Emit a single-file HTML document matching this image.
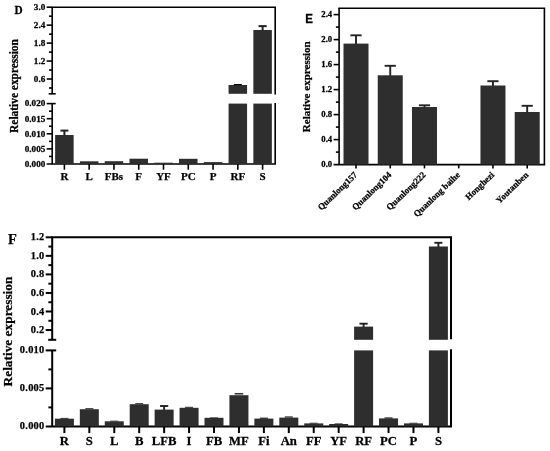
<!DOCTYPE html>
<html lang="en">
<head>
<meta charset="utf-8">
<title>Relative expression charts D, E, F</title>
<style>
html,body{margin:0;padding:0;background:#fff;}
body{width:550px;height:451px;overflow:hidden;}
svg{display:block;}
text{fill:#000;}
</style>
</head>
<body>
<svg width="550" height="451" viewBox="0 0 550 451">
<rect x="0" y="0" width="550" height="451" fill="#ffffff"/>
<line x1="51.40" y1="7.20" x2="276.00" y2="7.20" stroke="#000" stroke-width="1.6"/>
<line x1="52.20" y1="7.20" x2="52.20" y2="93.80" stroke="#000" stroke-width="1.6"/>
<line x1="52.20" y1="103.60" x2="52.20" y2="164.00" stroke="#000" stroke-width="1.6"/>
<line x1="275.20" y1="7.20" x2="275.20" y2="94.60" stroke="#000" stroke-width="1.6"/>
<line x1="275.20" y1="103.10" x2="275.20" y2="164.00" stroke="#000" stroke-width="1.6"/>
<line x1="46.70" y1="164.00" x2="276.00" y2="164.00" stroke="#000" stroke-width="1.6"/>
<line x1="48.70" y1="93.80" x2="55.70" y2="93.80" stroke="#000" stroke-width="1.6"/>
<line x1="46.70" y1="103.60" x2="55.70" y2="103.60" stroke="#000" stroke-width="1.6"/>
<line x1="46.70" y1="7.20" x2="52.20" y2="7.20" stroke="#000" stroke-width="1.6"/>
<text transform="translate(45.30 10.00) scale(1.09 1)" font-family='"Liberation Serif", serif' font-weight="bold" font-size="8.4" text-anchor="end" stroke="#000" stroke-width="0.25">3.0</text>
<line x1="46.70" y1="25.15" x2="52.20" y2="25.15" stroke="#000" stroke-width="1.6"/>
<text transform="translate(45.30 27.95) scale(1.09 1)" font-family='"Liberation Serif", serif' font-weight="bold" font-size="8.4" text-anchor="end" stroke="#000" stroke-width="0.25">2.4</text>
<line x1="46.70" y1="43.10" x2="52.20" y2="43.10" stroke="#000" stroke-width="1.6"/>
<text transform="translate(45.30 45.90) scale(1.09 1)" font-family='"Liberation Serif", serif' font-weight="bold" font-size="8.4" text-anchor="end" stroke="#000" stroke-width="0.25">1.8</text>
<line x1="46.70" y1="61.05" x2="52.20" y2="61.05" stroke="#000" stroke-width="1.6"/>
<text transform="translate(45.30 63.85) scale(1.09 1)" font-family='"Liberation Serif", serif' font-weight="bold" font-size="8.4" text-anchor="end" stroke="#000" stroke-width="0.25">1.2</text>
<line x1="46.70" y1="79.00" x2="52.20" y2="79.00" stroke="#000" stroke-width="1.6"/>
<text transform="translate(45.30 81.80) scale(1.09 1)" font-family='"Liberation Serif", serif' font-weight="bold" font-size="8.4" text-anchor="end" stroke="#000" stroke-width="0.25">0.6</text>
<line x1="49.00" y1="16.20" x2="52.20" y2="16.20" stroke="#000" stroke-width="1.6"/>
<line x1="49.00" y1="34.15" x2="52.20" y2="34.15" stroke="#000" stroke-width="1.6"/>
<line x1="49.00" y1="52.10" x2="52.20" y2="52.10" stroke="#000" stroke-width="1.6"/>
<line x1="49.00" y1="70.05" x2="52.20" y2="70.05" stroke="#000" stroke-width="1.6"/>
<line x1="49.00" y1="88.00" x2="52.20" y2="88.00" stroke="#000" stroke-width="1.6"/>
<text transform="translate(45.30 106.40) scale(1.09 1)" font-family='"Liberation Serif", serif' font-weight="bold" font-size="8.4" text-anchor="end" stroke="#000" stroke-width="0.25">0.020</text>
<line x1="46.70" y1="118.70" x2="52.20" y2="118.70" stroke="#000" stroke-width="1.6"/>
<text transform="translate(45.30 121.50) scale(1.09 1)" font-family='"Liberation Serif", serif' font-weight="bold" font-size="8.4" text-anchor="end" stroke="#000" stroke-width="0.25">0.015</text>
<line x1="46.70" y1="133.80" x2="52.20" y2="133.80" stroke="#000" stroke-width="1.6"/>
<text transform="translate(45.30 136.60) scale(1.09 1)" font-family='"Liberation Serif", serif' font-weight="bold" font-size="8.4" text-anchor="end" stroke="#000" stroke-width="0.25">0.010</text>
<line x1="46.70" y1="148.90" x2="52.20" y2="148.90" stroke="#000" stroke-width="1.6"/>
<text transform="translate(45.30 151.70) scale(1.09 1)" font-family='"Liberation Serif", serif' font-weight="bold" font-size="8.4" text-anchor="end" stroke="#000" stroke-width="0.25">0.005</text>
<text transform="translate(45.30 166.80) scale(1.09 1)" font-family='"Liberation Serif", serif' font-weight="bold" font-size="8.4" text-anchor="end" stroke="#000" stroke-width="0.25">0.000</text>
<line x1="49.00" y1="111.15" x2="52.20" y2="111.15" stroke="#000" stroke-width="1.6"/>
<line x1="49.00" y1="126.25" x2="52.20" y2="126.25" stroke="#000" stroke-width="1.6"/>
<line x1="49.00" y1="141.35" x2="52.20" y2="141.35" stroke="#000" stroke-width="1.6"/>
<line x1="49.00" y1="156.45" x2="52.20" y2="156.45" stroke="#000" stroke-width="1.6"/>
<line x1="64.40" y1="164.00" x2="64.40" y2="169.70" stroke="#000" stroke-width="1.6"/>
<text transform="translate(64.40 180.20)" font-family='"Liberation Serif", serif' font-weight="bold" font-size="11" text-anchor="middle" stroke="#000" stroke-width="0.25">R</text>
<rect x="55.15" y="135.00" width="18.50" height="29.00" fill="#2e2e2e"/>
<line x1="89.18" y1="164.00" x2="89.18" y2="169.70" stroke="#000" stroke-width="1.6"/>
<text transform="translate(89.18 180.20)" font-family='"Liberation Serif", serif' font-weight="bold" font-size="11" text-anchor="middle" stroke="#000" stroke-width="0.25">L</text>
<rect x="79.93" y="161.30" width="18.50" height="2.70" fill="#2e2e2e"/>
<line x1="113.95" y1="164.00" x2="113.95" y2="169.70" stroke="#000" stroke-width="1.6"/>
<text transform="translate(113.95 180.20)" font-family='"Liberation Serif", serif' font-weight="bold" font-size="11" text-anchor="middle" stroke="#000" stroke-width="0.25">FBs</text>
<rect x="104.70" y="161.20" width="18.50" height="2.80" fill="#2e2e2e"/>
<line x1="138.73" y1="164.00" x2="138.73" y2="169.70" stroke="#000" stroke-width="1.6"/>
<text transform="translate(138.73 180.20)" font-family='"Liberation Serif", serif' font-weight="bold" font-size="11" text-anchor="middle" stroke="#000" stroke-width="0.25">F</text>
<rect x="129.48" y="158.70" width="18.50" height="5.30" fill="#2e2e2e"/>
<line x1="163.50" y1="164.00" x2="163.50" y2="169.70" stroke="#000" stroke-width="1.6"/>
<text transform="translate(163.50 180.20)" font-family='"Liberation Serif", serif' font-weight="bold" font-size="11" text-anchor="middle" stroke="#000" stroke-width="0.25">YF</text>
<rect x="154.25" y="162.70" width="18.50" height="1.30" fill="#2e2e2e"/>
<line x1="188.28" y1="164.00" x2="188.28" y2="169.70" stroke="#000" stroke-width="1.6"/>
<text transform="translate(188.28 180.20)" font-family='"Liberation Serif", serif' font-weight="bold" font-size="11" text-anchor="middle" stroke="#000" stroke-width="0.25">PC</text>
<rect x="179.03" y="158.80" width="18.50" height="5.20" fill="#2e2e2e"/>
<line x1="213.05" y1="164.00" x2="213.05" y2="169.70" stroke="#000" stroke-width="1.6"/>
<text transform="translate(213.05 180.20)" font-family='"Liberation Serif", serif' font-weight="bold" font-size="11" text-anchor="middle" stroke="#000" stroke-width="0.25">P</text>
<rect x="203.80" y="162.10" width="18.50" height="1.90" fill="#2e2e2e"/>
<line x1="237.83" y1="164.00" x2="237.83" y2="169.70" stroke="#000" stroke-width="1.6"/>
<text transform="translate(237.83 180.20)" font-family='"Liberation Serif", serif' font-weight="bold" font-size="11" text-anchor="middle" stroke="#000" stroke-width="0.25">RF</text>
<line x1="262.60" y1="164.00" x2="262.60" y2="169.70" stroke="#000" stroke-width="1.6"/>
<text transform="translate(262.60 180.20)" font-family='"Liberation Serif", serif' font-weight="bold" font-size="11" text-anchor="middle" stroke="#000" stroke-width="0.25">S</text>
<line x1="64.40" y1="130.60" x2="64.40" y2="135.50" stroke="#222" stroke-width="2.0"/>
<line x1="60.40" y1="130.60" x2="68.40" y2="130.60" stroke="#222" stroke-width="2.0"/>
<rect x="228.58" y="85.00" width="18.50" height="8.80" fill="#2e2e2e"/>
<rect x="228.58" y="103.60" width="18.50" height="60.40" fill="#2e2e2e"/>
<line x1="233.83" y1="84.60" x2="241.83" y2="84.60" stroke="#000" stroke-width="1.2"/>
<rect x="253.35" y="30.00" width="18.50" height="63.80" fill="#2e2e2e"/>
<rect x="253.35" y="103.60" width="18.50" height="60.40" fill="#2e2e2e"/>
<line x1="262.60" y1="26.10" x2="262.60" y2="30.50" stroke="#222" stroke-width="2.0"/>
<line x1="258.55" y1="26.10" x2="266.65" y2="26.10" stroke="#222" stroke-width="2.0"/>
<text transform="translate(14.50 13.70) scale(0.95 1)" font-family='"Liberation Serif", serif' font-weight="bold" font-size="11.9" text-anchor="start" stroke="#000" stroke-width="0.25">D</text>
<text transform="translate(17.80 86.00) scale(1.07 1) rotate(-90)" font-family='"Liberation Serif", serif' font-weight="bold" font-size="11.4" text-anchor="middle" stroke="#000" stroke-width="0.25">Relative expression</text>
<line x1="338.30" y1="8.30" x2="545.20" y2="8.30" stroke="#000" stroke-width="1.6"/>
<line x1="339.10" y1="8.30" x2="339.10" y2="164.60" stroke="#000" stroke-width="1.6"/>
<line x1="544.40" y1="8.30" x2="544.40" y2="164.60" stroke="#000" stroke-width="1.6"/>
<line x1="333.60" y1="164.60" x2="545.20" y2="164.60" stroke="#000" stroke-width="1.6"/>
<line x1="333.60" y1="14.60" x2="339.10" y2="14.60" stroke="#000" stroke-width="1.6"/>
<text transform="translate(332.20 17.40) scale(1.04 1)" font-family='"Liberation Serif", serif' font-weight="bold" font-size="8.4" text-anchor="end" stroke="#000" stroke-width="0.25">2.4</text>
<line x1="333.60" y1="39.60" x2="339.10" y2="39.60" stroke="#000" stroke-width="1.6"/>
<text transform="translate(332.20 42.40) scale(1.04 1)" font-family='"Liberation Serif", serif' font-weight="bold" font-size="8.4" text-anchor="end" stroke="#000" stroke-width="0.25">2.0</text>
<line x1="333.60" y1="64.60" x2="339.10" y2="64.60" stroke="#000" stroke-width="1.6"/>
<text transform="translate(332.20 67.40) scale(1.04 1)" font-family='"Liberation Serif", serif' font-weight="bold" font-size="8.4" text-anchor="end" stroke="#000" stroke-width="0.25">1.6</text>
<line x1="333.60" y1="89.60" x2="339.10" y2="89.60" stroke="#000" stroke-width="1.6"/>
<text transform="translate(332.20 92.40) scale(1.04 1)" font-family='"Liberation Serif", serif' font-weight="bold" font-size="8.4" text-anchor="end" stroke="#000" stroke-width="0.25">1.2</text>
<line x1="333.60" y1="114.60" x2="339.10" y2="114.60" stroke="#000" stroke-width="1.6"/>
<text transform="translate(332.20 117.40) scale(1.04 1)" font-family='"Liberation Serif", serif' font-weight="bold" font-size="8.4" text-anchor="end" stroke="#000" stroke-width="0.25">0.8</text>
<line x1="333.60" y1="139.60" x2="339.10" y2="139.60" stroke="#000" stroke-width="1.6"/>
<text transform="translate(332.20 142.40) scale(1.04 1)" font-family='"Liberation Serif", serif' font-weight="bold" font-size="8.4" text-anchor="end" stroke="#000" stroke-width="0.25">0.4</text>
<text transform="translate(332.20 167.40) scale(1.04 1)" font-family='"Liberation Serif", serif' font-weight="bold" font-size="8.4" text-anchor="end" stroke="#000" stroke-width="0.25">0.0</text>
<line x1="335.90" y1="27.10" x2="339.10" y2="27.10" stroke="#000" stroke-width="1.6"/>
<line x1="335.90" y1="52.10" x2="339.10" y2="52.10" stroke="#000" stroke-width="1.6"/>
<line x1="335.90" y1="77.10" x2="339.10" y2="77.10" stroke="#000" stroke-width="1.6"/>
<line x1="335.90" y1="102.10" x2="339.10" y2="102.10" stroke="#000" stroke-width="1.6"/>
<line x1="335.90" y1="127.10" x2="339.10" y2="127.10" stroke="#000" stroke-width="1.6"/>
<line x1="335.90" y1="152.10" x2="339.10" y2="152.10" stroke="#000" stroke-width="1.6"/>
<line x1="356.00" y1="164.60" x2="356.00" y2="168.40" stroke="#000" stroke-width="1.6"/>
<rect x="343.50" y="43.60" width="25.00" height="121.00" fill="#2e2e2e"/>
<line x1="356.00" y1="35.30" x2="356.00" y2="44.10" stroke="#222" stroke-width="1.9"/>
<line x1="350.40" y1="35.30" x2="361.60" y2="35.30" stroke="#222" stroke-width="1.9"/>
<text transform="translate(357.80 175.50) rotate(-44)" font-family='"Liberation Serif", serif' font-weight="bold" font-size="8.9" text-anchor="end" stroke="#000" stroke-width="0.25">Quanlong157</text>
<line x1="390.24" y1="164.60" x2="390.24" y2="168.40" stroke="#000" stroke-width="1.6"/>
<rect x="377.74" y="75.30" width="25.00" height="89.30" fill="#2e2e2e"/>
<line x1="390.24" y1="65.80" x2="390.24" y2="75.80" stroke="#222" stroke-width="1.9"/>
<line x1="384.64" y1="65.80" x2="395.84" y2="65.80" stroke="#222" stroke-width="1.9"/>
<text transform="translate(392.04 175.50) rotate(-44)" font-family='"Liberation Serif", serif' font-weight="bold" font-size="8.9" text-anchor="end" stroke="#000" stroke-width="0.25">Quanlong104</text>
<line x1="424.48" y1="164.60" x2="424.48" y2="168.40" stroke="#000" stroke-width="1.6"/>
<rect x="411.98" y="107.00" width="25.00" height="57.60" fill="#2e2e2e"/>
<line x1="424.48" y1="105.30" x2="424.48" y2="107.50" stroke="#222" stroke-width="1.9"/>
<line x1="418.88" y1="105.30" x2="430.08" y2="105.30" stroke="#222" stroke-width="1.9"/>
<text transform="translate(426.28 175.50) rotate(-44)" font-family='"Liberation Serif", serif' font-weight="bold" font-size="8.9" text-anchor="end" stroke="#000" stroke-width="0.25">Quanlong222</text>
<line x1="458.72" y1="164.60" x2="458.72" y2="168.40" stroke="#000" stroke-width="1.6"/>
<text transform="translate(460.52 175.50) rotate(-44)" font-family='"Liberation Serif", serif' font-weight="bold" font-size="8.9" text-anchor="end" stroke="#000" stroke-width="0.25">Quanlong baihe</text>
<line x1="492.96" y1="164.60" x2="492.96" y2="168.40" stroke="#000" stroke-width="1.6"/>
<rect x="480.46" y="85.50" width="25.00" height="79.10" fill="#2e2e2e"/>
<line x1="492.96" y1="81.20" x2="492.96" y2="86.00" stroke="#222" stroke-width="1.9"/>
<line x1="487.36" y1="81.20" x2="498.56" y2="81.20" stroke="#222" stroke-width="1.9"/>
<text transform="translate(494.76 175.50) rotate(-44)" font-family='"Liberation Serif", serif' font-weight="bold" font-size="8.9" text-anchor="end" stroke="#000" stroke-width="0.25">Honghezi</text>
<line x1="527.20" y1="164.60" x2="527.20" y2="168.40" stroke="#000" stroke-width="1.6"/>
<rect x="514.70" y="112.00" width="25.00" height="52.60" fill="#2e2e2e"/>
<line x1="527.20" y1="105.80" x2="527.20" y2="112.50" stroke="#222" stroke-width="1.9"/>
<line x1="521.60" y1="105.80" x2="532.80" y2="105.80" stroke="#222" stroke-width="1.9"/>
<text transform="translate(529.00 175.50) rotate(-44)" font-family='"Liberation Serif", serif' font-weight="bold" font-size="8.9" text-anchor="end" stroke="#000" stroke-width="0.25">Youtanben</text>
<text transform="translate(305.20 22.80) scale(0.93 1)" font-family='"Liberation Sans", sans-serif' font-weight="bold" font-size="12.4" text-anchor="start" stroke="#000" stroke-width="0.3">E</text>
<text transform="translate(310.00 86.70) rotate(-90)" font-family='"Liberation Serif", serif' font-weight="bold" font-size="11.05" text-anchor="middle" stroke="#000" stroke-width="0.25">Relative expression</text>
<line x1="51.20" y1="237.30" x2="452.00" y2="237.30" stroke="#000" stroke-width="2.0"/>
<line x1="52.20" y1="237.30" x2="52.20" y2="339.80" stroke="#000" stroke-width="2.0"/>
<line x1="52.20" y1="350.40" x2="52.20" y2="426.40" stroke="#000" stroke-width="2.0"/>
<line x1="451.00" y1="237.30" x2="451.00" y2="339.30" stroke="#000" stroke-width="2.0"/>
<line x1="451.00" y1="349.20" x2="451.00" y2="426.40" stroke="#000" stroke-width="2.0"/>
<line x1="45.70" y1="426.40" x2="452.00" y2="426.40" stroke="#000" stroke-width="2.0"/>
<line x1="48.20" y1="339.80" x2="56.20" y2="339.80" stroke="#000" stroke-width="2.0"/>
<line x1="45.70" y1="350.40" x2="56.20" y2="350.40" stroke="#000" stroke-width="2.0"/>
<line x1="45.70" y1="237.30" x2="52.20" y2="237.30" stroke="#000" stroke-width="2.0"/>
<text transform="translate(44.50 240.30)" font-family='"Liberation Serif", serif' font-weight="bold" font-size="10.4" text-anchor="end" stroke="#000" stroke-width="0.25" letter-spacing="0.25">1.2</text>
<line x1="45.70" y1="255.85" x2="52.20" y2="255.85" stroke="#000" stroke-width="2.0"/>
<text transform="translate(44.50 258.85)" font-family='"Liberation Serif", serif' font-weight="bold" font-size="10.4" text-anchor="end" stroke="#000" stroke-width="0.25" letter-spacing="0.25">1.0</text>
<line x1="45.70" y1="274.40" x2="52.20" y2="274.40" stroke="#000" stroke-width="2.0"/>
<text transform="translate(44.50 277.40)" font-family='"Liberation Serif", serif' font-weight="bold" font-size="10.4" text-anchor="end" stroke="#000" stroke-width="0.25" letter-spacing="0.25">0.8</text>
<line x1="45.70" y1="292.95" x2="52.20" y2="292.95" stroke="#000" stroke-width="2.0"/>
<text transform="translate(44.50 295.95)" font-family='"Liberation Serif", serif' font-weight="bold" font-size="10.4" text-anchor="end" stroke="#000" stroke-width="0.25" letter-spacing="0.25">0.6</text>
<line x1="45.70" y1="311.50" x2="52.20" y2="311.50" stroke="#000" stroke-width="2.0"/>
<text transform="translate(44.50 314.50)" font-family='"Liberation Serif", serif' font-weight="bold" font-size="10.4" text-anchor="end" stroke="#000" stroke-width="0.25" letter-spacing="0.25">0.4</text>
<line x1="45.70" y1="330.05" x2="52.20" y2="330.05" stroke="#000" stroke-width="2.0"/>
<text transform="translate(44.50 333.05)" font-family='"Liberation Serif", serif' font-weight="bold" font-size="10.4" text-anchor="end" stroke="#000" stroke-width="0.25" letter-spacing="0.25">0.2</text>
<line x1="48.40" y1="246.58" x2="52.20" y2="246.58" stroke="#000" stroke-width="2.0"/>
<line x1="48.40" y1="265.12" x2="52.20" y2="265.12" stroke="#000" stroke-width="2.0"/>
<line x1="48.40" y1="283.68" x2="52.20" y2="283.68" stroke="#000" stroke-width="2.0"/>
<line x1="48.40" y1="302.23" x2="52.20" y2="302.23" stroke="#000" stroke-width="2.0"/>
<line x1="48.40" y1="320.77" x2="52.20" y2="320.77" stroke="#000" stroke-width="2.0"/>
<text transform="translate(44.50 353.40)" font-family='"Liberation Serif", serif' font-weight="bold" font-size="10.4" text-anchor="end" stroke="#000" stroke-width="0.25" letter-spacing="0.25">0.010</text>
<line x1="45.70" y1="388.40" x2="52.20" y2="388.40" stroke="#000" stroke-width="2.0"/>
<text transform="translate(44.50 391.40)" font-family='"Liberation Serif", serif' font-weight="bold" font-size="10.4" text-anchor="end" stroke="#000" stroke-width="0.25" letter-spacing="0.25">0.005</text>
<text transform="translate(44.50 429.40)" font-family='"Liberation Serif", serif' font-weight="bold" font-size="10.4" text-anchor="end" stroke="#000" stroke-width="0.25" letter-spacing="0.25">0.000</text>
<line x1="48.40" y1="369.40" x2="52.20" y2="369.40" stroke="#000" stroke-width="2.0"/>
<line x1="48.40" y1="407.40" x2="52.20" y2="407.40" stroke="#000" stroke-width="2.0"/>
<line x1="64.40" y1="426.40" x2="64.40" y2="433.10" stroke="#000" stroke-width="2.0"/>
<text transform="translate(64.40 445.20) scale(1.04 1)" font-family='"Liberation Serif", serif' font-weight="bold" font-size="12.2" text-anchor="middle" stroke="#000" stroke-width="0.25">R</text>
<rect x="54.90" y="418.70" width="19.00" height="7.70" fill="#2e2e2e"/>
<line x1="89.33" y1="426.40" x2="89.33" y2="433.10" stroke="#000" stroke-width="2.0"/>
<text transform="translate(89.33 445.20) scale(1.04 1)" font-family='"Liberation Serif", serif' font-weight="bold" font-size="12.2" text-anchor="middle" stroke="#000" stroke-width="0.25">S</text>
<rect x="79.83" y="409.20" width="19.00" height="17.20" fill="#2e2e2e"/>
<line x1="114.27" y1="426.40" x2="114.27" y2="433.10" stroke="#000" stroke-width="2.0"/>
<text transform="translate(114.27 445.20) scale(1.04 1)" font-family='"Liberation Serif", serif' font-weight="bold" font-size="12.2" text-anchor="middle" stroke="#000" stroke-width="0.25">L</text>
<rect x="104.77" y="421.30" width="19.00" height="5.10" fill="#2e2e2e"/>
<line x1="139.20" y1="426.40" x2="139.20" y2="433.10" stroke="#000" stroke-width="2.0"/>
<text transform="translate(139.20 445.20) scale(1.04 1)" font-family='"Liberation Serif", serif' font-weight="bold" font-size="12.2" text-anchor="middle" stroke="#000" stroke-width="0.25">B</text>
<rect x="129.70" y="404.20" width="19.00" height="22.20" fill="#2e2e2e"/>
<line x1="164.13" y1="426.40" x2="164.13" y2="433.10" stroke="#000" stroke-width="2.0"/>
<text transform="translate(164.13 445.20) scale(1.04 1)" font-family='"Liberation Serif", serif' font-weight="bold" font-size="12.2" text-anchor="middle" stroke="#000" stroke-width="0.25">LFB</text>
<rect x="154.63" y="409.60" width="19.00" height="16.80" fill="#2e2e2e"/>
<line x1="189.07" y1="426.40" x2="189.07" y2="433.10" stroke="#000" stroke-width="2.0"/>
<text transform="translate(189.07 445.20) scale(1.04 1)" font-family='"Liberation Serif", serif' font-weight="bold" font-size="12.2" text-anchor="middle" stroke="#000" stroke-width="0.25">I</text>
<rect x="179.57" y="407.80" width="19.00" height="18.60" fill="#2e2e2e"/>
<line x1="214.00" y1="426.40" x2="214.00" y2="433.10" stroke="#000" stroke-width="2.0"/>
<text transform="translate(214.00 445.20) scale(1.04 1)" font-family='"Liberation Serif", serif' font-weight="bold" font-size="12.2" text-anchor="middle" stroke="#000" stroke-width="0.25">FB</text>
<rect x="204.50" y="417.80" width="19.00" height="8.60" fill="#2e2e2e"/>
<line x1="238.93" y1="426.40" x2="238.93" y2="433.10" stroke="#000" stroke-width="2.0"/>
<text transform="translate(238.93 445.20) scale(1.04 1)" font-family='"Liberation Serif", serif' font-weight="bold" font-size="12.2" text-anchor="middle" stroke="#000" stroke-width="0.25">MF</text>
<rect x="229.43" y="395.20" width="19.00" height="31.20" fill="#2e2e2e"/>
<line x1="263.87" y1="426.40" x2="263.87" y2="433.10" stroke="#000" stroke-width="2.0"/>
<text transform="translate(263.87 445.20) scale(1.04 1)" font-family='"Liberation Serif", serif' font-weight="bold" font-size="12.2" text-anchor="middle" stroke="#000" stroke-width="0.25">Fi</text>
<rect x="254.37" y="418.60" width="19.00" height="7.80" fill="#2e2e2e"/>
<line x1="288.80" y1="426.40" x2="288.80" y2="433.10" stroke="#000" stroke-width="2.0"/>
<text transform="translate(288.80 445.20) scale(1.04 1)" font-family='"Liberation Serif", serif' font-weight="bold" font-size="12.2" text-anchor="middle" stroke="#000" stroke-width="0.25">An</text>
<rect x="279.30" y="417.60" width="19.00" height="8.80" fill="#2e2e2e"/>
<line x1="313.73" y1="426.40" x2="313.73" y2="433.10" stroke="#000" stroke-width="2.0"/>
<text transform="translate(313.73 445.20) scale(1.04 1)" font-family='"Liberation Serif", serif' font-weight="bold" font-size="12.2" text-anchor="middle" stroke="#000" stroke-width="0.25">FF</text>
<rect x="304.23" y="423.40" width="19.00" height="3.00" fill="#2e2e2e"/>
<line x1="338.67" y1="426.40" x2="338.67" y2="433.10" stroke="#000" stroke-width="2.0"/>
<text transform="translate(338.67 445.20) scale(1.04 1)" font-family='"Liberation Serif", serif' font-weight="bold" font-size="12.2" text-anchor="middle" stroke="#000" stroke-width="0.25">YF</text>
<rect x="329.17" y="424.00" width="19.00" height="2.40" fill="#2e2e2e"/>
<line x1="363.60" y1="426.40" x2="363.60" y2="433.10" stroke="#000" stroke-width="2.0"/>
<text transform="translate(363.60 445.20) scale(1.04 1)" font-family='"Liberation Serif", serif' font-weight="bold" font-size="12.2" text-anchor="middle" stroke="#000" stroke-width="0.25">RF</text>
<line x1="388.53" y1="426.40" x2="388.53" y2="433.10" stroke="#000" stroke-width="2.0"/>
<text transform="translate(388.53 445.20) scale(1.04 1)" font-family='"Liberation Serif", serif' font-weight="bold" font-size="12.2" text-anchor="middle" stroke="#000" stroke-width="0.25">PC</text>
<rect x="379.03" y="418.40" width="19.00" height="8.00" fill="#2e2e2e"/>
<line x1="413.47" y1="426.40" x2="413.47" y2="433.10" stroke="#000" stroke-width="2.0"/>
<text transform="translate(413.47 445.20) scale(1.04 1)" font-family='"Liberation Serif", serif' font-weight="bold" font-size="12.2" text-anchor="middle" stroke="#000" stroke-width="0.25">P</text>
<rect x="403.97" y="423.40" width="19.00" height="3.00" fill="#2e2e2e"/>
<line x1="438.40" y1="426.40" x2="438.40" y2="433.10" stroke="#000" stroke-width="2.0"/>
<text transform="translate(438.40 445.20) scale(1.04 1)" font-family='"Liberation Serif", serif' font-weight="bold" font-size="12.2" text-anchor="middle" stroke="#000" stroke-width="0.25">S</text>
<line x1="60.40" y1="418.40" x2="68.40" y2="418.40" stroke="#222" stroke-width="0.9"/>
<line x1="85.33" y1="408.70" x2="93.33" y2="408.70" stroke="#222" stroke-width="1.0"/>
<line x1="110.27" y1="421.10" x2="118.27" y2="421.10" stroke="#222" stroke-width="0.8"/>
<line x1="135.20" y1="403.70" x2="143.20" y2="403.70" stroke="#222" stroke-width="1.0"/>
<line x1="164.13" y1="406.00" x2="164.13" y2="410.00" stroke="#222" stroke-width="1.9"/>
<line x1="160.03" y1="406.00" x2="168.23" y2="406.00" stroke="#222" stroke-width="1.9"/>
<line x1="185.07" y1="407.30" x2="193.07" y2="407.30" stroke="#222" stroke-width="1.0"/>
<line x1="210.00" y1="417.60" x2="218.00" y2="417.60" stroke="#222" stroke-width="0.6"/>
<line x1="234.63" y1="393.80" x2="243.23" y2="393.80" stroke="#222" stroke-width="1.4"/>
<line x1="259.87" y1="418.20" x2="267.87" y2="418.20" stroke="#222" stroke-width="1.2"/>
<line x1="284.80" y1="417.00" x2="292.80" y2="417.00" stroke="#222" stroke-width="1.2"/>
<line x1="309.73" y1="423.20" x2="317.73" y2="423.20" stroke="#222" stroke-width="0.8"/>
<line x1="334.67" y1="423.80" x2="342.67" y2="423.80" stroke="#222" stroke-width="0.8"/>
<line x1="384.53" y1="418.00" x2="392.53" y2="418.00" stroke="#222" stroke-width="1.2"/>
<line x1="409.47" y1="423.20" x2="417.47" y2="423.20" stroke="#222" stroke-width="0.8"/>
<rect x="354.10" y="326.60" width="19.00" height="13.20" fill="#2e2e2e"/>
<rect x="354.10" y="350.40" width="19.00" height="76.00" fill="#2e2e2e"/>
<line x1="363.60" y1="323.70" x2="363.60" y2="327.00" stroke="#222" stroke-width="1.9"/>
<line x1="359.50" y1="323.70" x2="367.70" y2="323.70" stroke="#222" stroke-width="1.9"/>
<rect x="428.90" y="246.50" width="19.00" height="93.30" fill="#2e2e2e"/>
<rect x="428.90" y="350.40" width="19.00" height="76.00" fill="#2e2e2e"/>
<line x1="438.40" y1="242.80" x2="438.40" y2="247.20" stroke="#222" stroke-width="1.9"/>
<line x1="434.40" y1="242.80" x2="442.40" y2="242.80" stroke="#222" stroke-width="1.9"/>
<text transform="translate(8.00 243.50)" font-family='"Liberation Serif", serif' font-weight="bold" font-size="14.4" text-anchor="start" stroke="#000" stroke-width="0.25">F</text>
<text transform="translate(11.90 331.50) rotate(-90)" font-family='"Liberation Serif", serif' font-weight="bold" font-size="13.35" text-anchor="middle" stroke="#000" stroke-width="0.25">Relative expression</text>
</svg>
</body>
</html>
